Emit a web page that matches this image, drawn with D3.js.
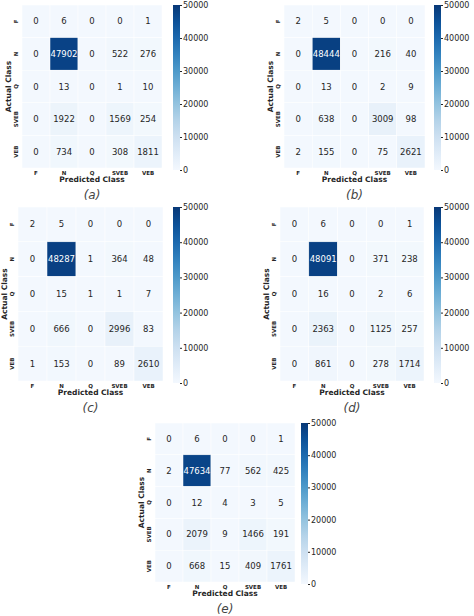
<!DOCTYPE html>
<html><head><meta charset="utf-8">
<script src="https://cdn.jsdelivr.net/npm/d3@7"></script>
<style>body{margin:0;background:#fff}text{font-family:"DejaVu Sans",sans-serif}</style>
</head><body><svg id="c" width="474" height="616"></svg>
<script>
// Class labels and confusion matrices
const classes = ['F', 'N', 'Q', 'SVEB', 'VEB'];
const matA = [[0,6,0,0,1],[0,47902,0,522,276],[0,13,0,1,10],[0,1922,0,1569,254],[0,734,0,308,1811]];
const matB = [[2,5,0,0,0],[0,48444,0,216,40],[0,13,0,2,9],[0,638,0,3009,98],[2,155,0,75,2621]];
const matC = [[2,5,0,0,0],[0,48287,1,364,48],[0,15,1,1,7],[0,666,0,2996,83],[1,153,0,89,2610]];
const matD = [[0,6,0,0,1],[0,48091,0,371,238],[0,16,0,2,6],[0,2363,0,1125,257],[0,861,0,278,1714]];
const matE = [[0,6,0,0,1],[2,47634,77,562,425],[0,12,4,3,5],[0,2079,9,1466,191],[0,668,15,409,1761]];
const panelLabels = ['(a)', '(b)', '(c)', '(d)', '(e)'];
const cbTicks = [0, 10000, 20000, 30000, 40000, 50000];

// layout: heatmap box (x0,x1,y0,y1), colour bar x
const panels = [
  {m: matA, x0: 22, x1: 162, y0: 5, y1: 168, cb: 173},
  {m: matB, x0: 284, x1: 425, y0: 5, y1: 168, cb: 434},
  {m: matC, x0: 18, x1: 163, y0: 207, y1: 381, cb: 173},
  {m: matD, x0: 280, x1: 424, y0: 207, y1: 381, cb: 434},
  {m: matE, x0: 155, x1: 295, y0: 423, y1: 582, cb: 301}
];

const svg = d3.select('#c');
const defs = svg.append('defs');
const color = d3.scaleSequential(t => d3.interpolateBlues(t * 0.95 + 0.02)).domain([0, 50000]);

panels.forEach((p, i) => {
  const g = svg.append('g');
  const x = d3.scaleBand().domain(classes).range([p.x0, p.x1]);
  const y = d3.scaleBand().domain(classes).range([p.y0, p.y1]);
  const mx = (p.x0 + p.x1) / 2;
  classes.forEach((r, ri) => {
    classes.forEach((c, ci) => {
      const v = p.m[ri][ci];
      g.append('rect').attr('x', x(c)).attr('y', y(r))
        .attr('width', x.bandwidth()).attr('height', y.bandwidth())
        .attr('fill', color(v)).attr('stroke', '#fff').attr('stroke-width', 0.5);
      g.append('text').attr('x', x(c) + x.bandwidth() / 2).attr('y', y(r) + y.bandwidth() / 2)
        .attr('text-anchor', 'middle').attr('dominant-baseline', 'central')
        .attr('font-size', 8.5).attr('fill', v > 25000 ? '#fff' : '#262626').text(v);
    });
  });
  classes.forEach(c => {
    g.append('text').attr('x', x(c) + x.bandwidth() / 2).attr('y', p.y1 + 7)
      .attr('text-anchor', 'middle').attr('font-size', 5.5).attr('font-weight', 'bold')
      .attr('fill', '#262626').text(c);
    g.append('text').attr('transform', `translate(${p.x0 - 4},${y(c) + y.bandwidth() / 2}) rotate(-90)`)
      .attr('text-anchor', 'middle').attr('font-size', 5.5).attr('font-weight', 'bold')
      .attr('fill', '#262626').text(c);
  });
  g.append('text').attr('x', mx).attr('y', p.y1 + 14).attr('text-anchor', 'middle')
    .attr('font-size', 7.5).attr('font-weight', 'bold').attr('fill', '#262626').text('Predicted Class');
  g.append('text').attr('transform', `translate(${p.x0 - 11},${(p.y0 + p.y1) / 2}) rotate(-90)`)
    .attr('text-anchor', 'middle')
    .attr('font-size', 7.5).attr('font-weight', 'bold').attr('fill', '#262626').text('Actual Class');

  // colour bar
  const cy = d3.scaleLinear().domain([0, 50000]).range([p.y1 + 2, p.y0]);
  const gid = 'grad' + i;
  const grad = defs.append('linearGradient').attr('id', gid)
    .attr('x1', 0).attr('y1', 1).attr('x2', 0).attr('y2', 0);
  d3.range(0, 1.01, 0.1).forEach(t => grad.append('stop').attr('offset', t).attr('stop-color', color(t * 50000)));
  g.append('rect').attr('x', p.cb).attr('y', p.y0).attr('width', 7).attr('height', p.y1 + 2 - p.y0)
    .attr('fill', `url(#${gid})`);
  const ax = g.append('g').attr('transform', `translate(${p.cb + 7},0)`)
    .call(d3.axisRight(cy).tickValues(cbTicks).tickSize(2).tickFormat(d3.format('d')));
  ax.select('.domain').remove();
  ax.selectAll('text').attr('font-size', 8).attr('fill', '#262626').attr('x', 3);
  ax.selectAll('line').attr('stroke', '#262626');

  g.append('text').attr('x', mx).attr('y', p.y1 + 31).attr('text-anchor', 'middle')
    .attr('font-size', 12).attr('font-style', 'italic').attr('fill', '#444')
    .attr('font-family', 'Open Sans, sans-serif').text(panelLabels[i]);
});
</script></body></html>
